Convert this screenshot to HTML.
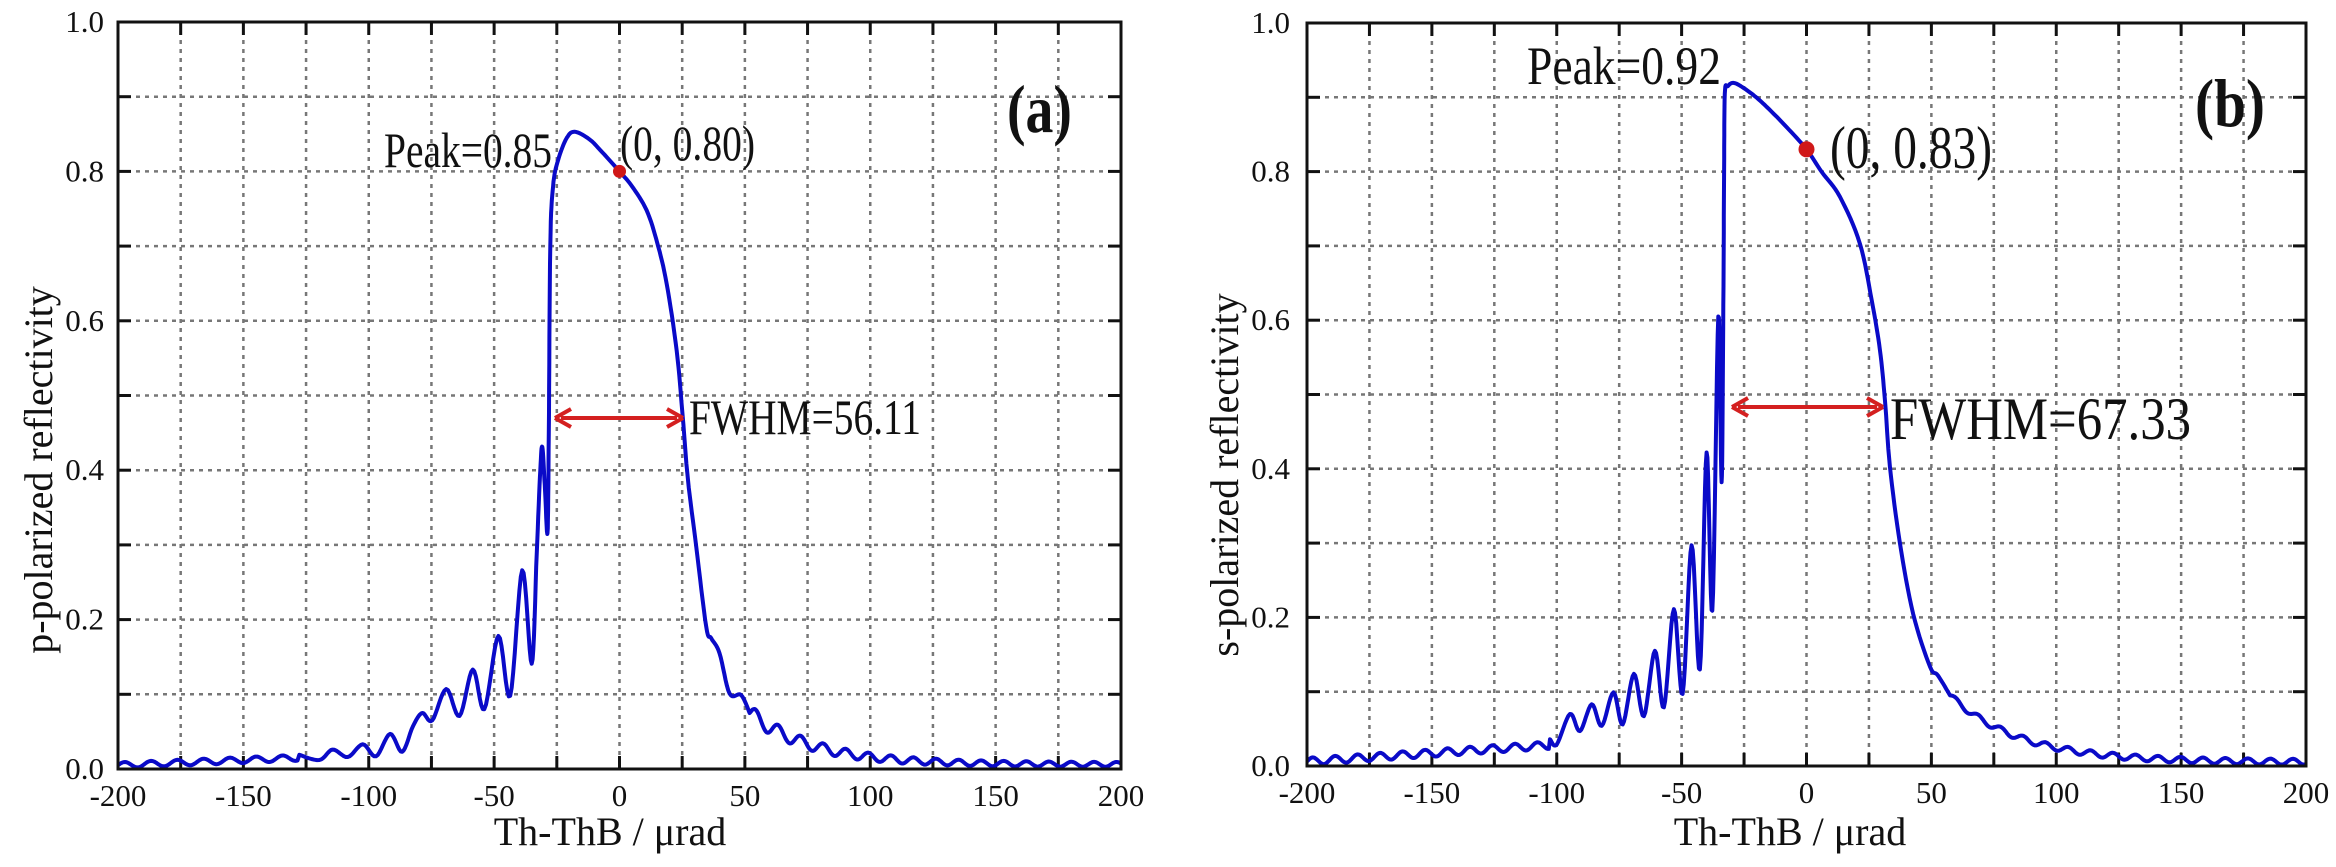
<!DOCTYPE html>
<html><head><meta charset="utf-8"><style>
html,body{margin:0;padding:0;background:#fff;}
svg{display:block;}
text{font-family:"Liberation Serif",serif;fill:#111;}
</style></head><body>
<svg id="s" width="2336" height="867" viewBox="0 0 2336 867" xmlns="http://www.w3.org/2000/svg">
<rect width="2336" height="867" fill="#fff"/>
<g id="g"></g>
<text x="384" y="167" font-size="50" textLength="168" lengthAdjust="spacingAndGlyphs">Peak=0.85</text>
<text x="620" y="160" font-size="50" textLength="135" lengthAdjust="spacingAndGlyphs">(0, 0.80)</text>
<text x="689" y="434" font-size="50" textLength="232" lengthAdjust="spacingAndGlyphs">FWHM=56.11</text>
<text x="1007" y="132" font-size="68" font-weight="bold" textLength="65" lengthAdjust="spacingAndGlyphs">(a)</text>
<text x="52" y="470" font-size="40" text-anchor="middle" transform="rotate(-90 52 470)">p-polarized reflectivity</text>
<text x="610" y="845" font-size="40" text-anchor="middle">Th-ThB / μrad</text>
<text x="1527" y="84" font-size="54" textLength="194" lengthAdjust="spacingAndGlyphs">Peak=0.92</text>
<text x="1830" y="168" font-size="60" textLength="162" lengthAdjust="spacingAndGlyphs">(0, 0.83)</text>
<text x="1890" y="439" font-size="60" textLength="301" lengthAdjust="spacingAndGlyphs">FWHM=67.33</text>
<text x="2195" y="126" font-size="68" font-weight="bold" textLength="70" lengthAdjust="spacingAndGlyphs">(b)</text>
<text x="1238" y="475" font-size="40" text-anchor="middle" transform="rotate(-90 1238 475)">s-polarized reflectivity</text>
<text x="1790" y="845" font-size="40" text-anchor="middle">Th-ThB / μrad</text>
</svg>
<script>
var NS="http://www.w3.org/2000/svg";var G=document.getElementById("g");
function el(t,a){var e=document.createElementNS(NS,t);for(var k in a)e.setAttribute(k,a[k]);G.appendChild(e);return e;}
function txt(x,y,s,fs,anc){var e=el("text",{x:x,y:y,"font-size":fs,"text-anchor":anc});e.textContent=s;}
function panel(P,pts,tailL,xs,tailR,xe,dotR,A){
 var mx=function(x){return P.X0+(x+200)/400*(P.X1-P.X0);};
 var my=function(y){return P.Y0-y*(P.Y0-P.Y1);};
 var x,i,y;
 for(x=-175;x<200;x+=25){el("line",{x1:mx(x),y1:P.Y1,x2:mx(x),y2:P.Y0,stroke:"#777","stroke-width":2.5,"stroke-dasharray":"4 5"});}
 for(i=1;i<10;i++){y=i/10;el("line",{x1:P.X0,y1:my(y),x2:P.X1,y2:my(y),stroke:"#777","stroke-width":2.5,"stroke-dasharray":"4 5"});}
 for(x=-175;x<200;x+=25){el("line",{x1:mx(x),y1:P.Y0,x2:mx(x),y2:P.Y0-13,stroke:"#111","stroke-width":3});el("line",{x1:mx(x),y1:P.Y1,x2:mx(x),y2:P.Y1+13,stroke:"#111","stroke-width":3});}
 for(i=1;i<10;i++){y=my(i/10);el("line",{x1:P.X0,y1:y,x2:P.X0+13,y2:y,stroke:"#111","stroke-width":3});el("line",{x1:P.X1,y1:y,x2:P.X1-13,y2:y,stroke:"#111","stroke-width":3});}
 for(x=-200;x<=200;x+=50)txt(mx(x),P.Y0+37,String(x),31,"middle");
 for(i=0;i<=5;i++)txt(P.lab,my(i*0.2)+10,(i*0.2).toFixed(1),31,"end");
 var all=[];for(x=-200;x<xs;x+=0.4)all.push([x,tailL(x)]);
 var p=pts;
 for(i=0;i<p.length-1;i++){var a=p[Math.max(0,i-1)],b=p[i],c=p[i+1],d=p[Math.min(p.length-1,i+2)];
  for(var t=0;t<1;t+=0.125){var t2=t*t,t3=t2*t,q=[];
   for(var k=0;k<2;k++)q.push(0.5*((2*b[k])+(-a[k]+c[k])*t+(2*a[k]-5*b[k]+4*c[k]-d[k])*t2+(-a[k]+3*b[k]-3*c[k]+d[k])*t3));
   all.push(q);}}
 all.push(p[p.length-1]);
 for(x=xe;x<=200;x+=0.4)all.push([x,tailR(x)]);
 var s="";for(i=0;i<all.length;i++){var yy=Math.max(0.002,all[i][1]);s+=(i?"L":"M")+mx(all[i][0]).toFixed(1)+" "+my(yy).toFixed(1);}
 el("path",{d:s,fill:"none",stroke:"#0a0ac8","stroke-width":4,"stroke-linejoin":"round"});
 el("line",{x1:A[0]+6,y1:A[2],x2:A[1]-6,y2:A[2],stroke:"#d42020","stroke-width":4});
 el("path",{d:"M"+A[0]+" "+A[2]+"l16 -9M"+A[0]+" "+A[2]+"l16 9",stroke:"#d42020","stroke-width":4,fill:"none"});
 el("path",{d:"M"+A[1]+" "+A[2]+"l-16 -9M"+A[1]+" "+A[2]+"l-16 9",stroke:"#d42020","stroke-width":4,fill:"none"});
 el("circle",{cx:mx(0),cy:my(P.dot),r:dotR,fill:"#d01818"});
 el("rect",{x:P.X0,y:P.Y1,width:P.X1-P.X0,height:P.Y0-P.Y1,fill:"none",stroke:"#111","stroke-width":3});
}
var L={X0:118,X1:1121,Y0:769,Y1:22,dot:0.80,lab:104};
var ptsL=[[-127.7,0.019],[-119.7,0.012],[-114.4,0.026],[-108.4,0.016],[-102.4,0.033],[-97.1,0.017],[-91.5,0.047],[-86.7,0.023],[-82.4,0.057],[-78.7,0.075],[-74.7,0.065],[-69.1,0.107],[-63.8,0.071],[-58.5,0.133],[-53.9,0.080],[-48.3,0.178],[-43.6,0.098],[-38.8,0.266],[-35.0,0.141],[-33,0.29],[-31.6,0.40],[-30.8,0.431],[-29.8,0.38],[-28.7,0.316],[-28.2,0.45],[-27.6,0.70],[-26.5,0.78],[-24.5,0.815],[-21,0.845],[-17.7,0.853],[-12,0.843],[-7.8,0.829],[0,0.80],[5,0.78],[10.8,0.748],[15,0.705],[18.8,0.65],[22.8,0.56],[25.2,0.472],[27.3,0.387],[30.6,0.298],[34.6,0.19],[36.6,0.175],[39.9,0.155],[43.9,0.101],[48.5,0.099],[51.9,0.075]];
panel(L,ptsL,function(x){return 0.005+(x+200)/72*0.01+0.004*Math.sin(2*Math.PI*(x+200)/10.5);},-128,
 function(x){return 0.006+0.069*Math.exp(-(x-52)/25)+(0.008*Math.exp(-(x-52)/40)+0.003)*Math.sin(2*Math.PI*(x-52)/9);},52.3,6.5,[555,683,418]);
var R={X0:1307,X1:2306,Y0:766,Y1:23,dot:0.83,lab:1290};
var ptsR=[[-102.7,0.036],[-100,0.029],[-94.7,0.070],[-90.7,0.047],[-86,0.083],[-82,0.054],[-77.3,0.099],[-73.6,0.056],[-69.1,0.124],[-65.1,0.067],[-60.7,0.155],[-57.1,0.079],[-53.1,0.211],[-49.6,0.097],[-46,0.297],[-42.7,0.130],[-40,0.422],[-37.7,0.209],[-35.3,0.605],[-34,0.382],[-33.3,0.62],[-33,0.80],[-32.7,0.905],[-31.5,0.915],[-28.6,0.919],[-22,0.905],[-15.9,0.887],[-8,0.86],[0,0.830],[6,0.80],[13.4,0.766],[21.4,0.703],[26.1,0.627],[29.4,0.56],[31.4,0.493],[33.4,0.403],[37.4,0.30],[42.7,0.205],[49.4,0.134],[52.6,0.122],[57.5,0.095]];
panel(R,ptsR,function(x){return 0.006+(x+200)/97*0.022+0.005*Math.sin(2*Math.PI*(x+200)/9);},-103,
 function(x){return 0.005+0.09*Math.exp(-(x-57.5)/28)+0.004*Math.sin(2*Math.PI*(x-57.5)/9);},57.9,8,[1732,1883,407]);
</script>
</body></html>
